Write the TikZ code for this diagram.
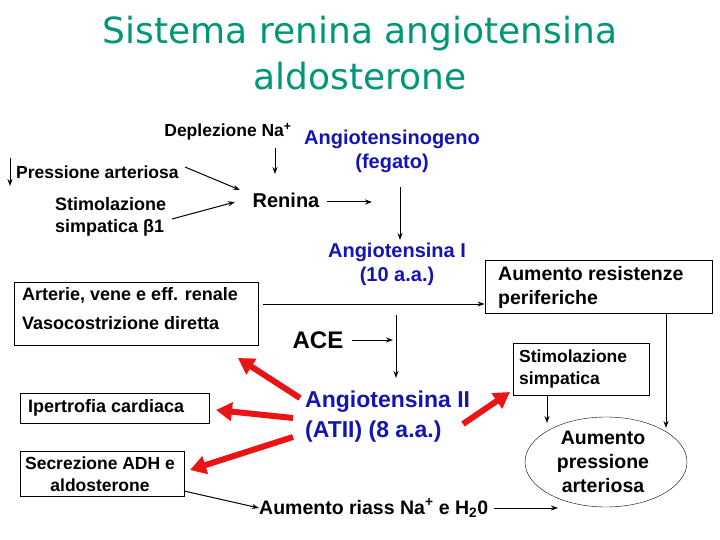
\documentclass[tikz,border=0pt]{standalone}
\usepackage{fontspec}
\setmainfont{Liberation Sans}
\newfontfamily\titlefont{DejaVu Sans}
\usetikzlibrary{arrows.meta,shapes.geometric}
\definecolor{ttl}{RGB}{0,150,120}
\definecolor{bl}{RGB}{20,20,180}
\begin{document}
\begin{tikzpicture}[x=1pt,y=-1pt,
  lbl/.style={font=\bfseries\fontsize{18}{20}\selectfont,inner sep=0pt,align=center},
  blu/.style={font=\bfseries\fontsize{20}{24}\selectfont,text=bl,inner sep=0pt,align=center},
  box/.style={draw,line width=0.8pt,inner sep=0pt},
  ar/.style={-{Stealth[length=7pt,width=5pt]},line width=1pt},
  red/.style={-{Triangle[length=16pt,width=18pt]},line width=6pt,draw={rgb,255:red,235;green,20;blue,20}}]
\useasboundingbox (0,0) rectangle (720,540);
\node[font=\titlefont\fontsize{36}{46}\selectfont,text=ttl,align=center] (t) at (360,53) {Sistema renina angiotensina\\aldosterone};
\node[lbl,font=\bfseries\fontsize{17.5}{20}\selectfont] (dep) at (228,132) {Deplezione Na\textsuperscript{+}};
\coordinate (d1) at (275,148); \coordinate (d2) at (275,174);
\draw[ar] (d1) -- (d2);
\node[blu] (agg) at (392,151) {Angiotensinogeno\\(fegato)};
\node[lbl,anchor=west,font=\bfseries\fontsize{17.5}{20}\selectfont] (pa) at (16,172) {Pressione arteriosa};
\coordinate (p1) at (10,158); \coordinate (p2) at (10,186);
\draw[ar] (p1) -- (p2);
\node[lbl,anchor=west,align=left,font=\bfseries\fontsize{18}{22}\selectfont] (ss) at (55,217) {Stimolazione\\simpatica β1};
\node[lbl,font=\bfseries\fontsize{20}{22}\selectfont] (ren) at (286,200) {Renina};
\draw[ar] (185,167) coordinate (pae) -- (240,190) coordinate (rin);
\draw[ar] (172,219) coordinate (ssa) -- (235,202) coordinate (rin2);
\draw[ar] (327,202) coordinate (re) -- (372,202) coordinate (re2);
\draw[ar] (400,187) coordinate (ag1) -- (400,240) coordinate (ag2);
\node[blu] (a1) at (397,264) {Angiotensina I\\(10 a.a.)};
\node[box,minimum width=244pt,minimum height=63pt] (art) at (136,313.5) {};
\node[lbl,anchor=west] (arttx) at (22,295) {Arterie, vene e eff. renale};
\node[lbl,anchor=west] (vas) at (22,323) {Vasocostrizione diretta};
\node[box,minimum width=227pt,minimum height=53pt] (aum) at (598.5,286.5) {};
\node[lbl,anchor=west,align=left,font=\bfseries\fontsize{19.5}{24}\selectfont] (aumtx) at (498,287) {Aumento resistenze\\periferiche};
\coordinate (l1) at (263,304);
\draw[ar] (l1) -- (aum.west |- l1);
\coordinate (b1) at (396,315); \coordinate (b2) at (396,378);
\draw[ar] (b1) -- (b2);
\node[lbl,font=\bfseries\fontsize{24}{26}\selectfont] (ace) at (318,340) {ACE};
\draw[ar] (352,340) coordinate (c1) -- (393,340) coordinate (c2);
\node[blu,anchor=west,align=left,font=\bfseries\fontsize{23}{30}\selectfont] (a2) at (305,417) {Angiotensina II\\(ATII) (8 a.a.)};
\node[box,minimum width=136pt,minimum height=52pt] (sts) at (581,369) {};
\node[lbl,anchor=west,align=left,font=\bfseries\fontsize{17.5}{22}\selectfont] (ststx) at (519,369) {Stimolazione\\simpatica};
\node[draw,ellipse,minimum width=162pt,minimum height=90pt,inner sep=0pt] (ell) at (606,462) {};
\node[lbl,font=\bfseries\fontsize{19.5}{24}\selectfont] (elltx) at (603,462) {Aumento\\pressione\\arteriosa};
\draw[ar] (547,395) coordinate (s1) -- (547,423) coordinate (s2);
\draw[ar] (666,313) coordinate (m1) -- (666,428) coordinate (m2);
\node[box,minimum width=189pt,minimum height=30pt] (ip) at (114.5,408) {};
\node[lbl,anchor=west] (iptx) at (28,408) {Ipertrofia cardiaca};
\node[box,minimum width=164pt,minimum height=45pt] (sec) at (102,473.5) {};
\node[lbl,font=\bfseries\fontsize{17.5}{22}\selectfont] (sectx) at (100,474) {Secrezione ADH e\\aldosterone};
\node[lbl,anchor=west,font=\bfseries\fontsize{19.5}{22}\selectfont] (ria) at (259,508) {Aumento riass Na\textsuperscript{+} e H\textsubscript{2}0};
\draw[ar] (184,491) coordinate (se) -- (ria.west);
\draw[ar] ([xshift=6pt]ria.east) -- (558,508) coordinate (ri2);
\draw[red] (300,398) coordinate (r1) -- (238,358) coordinate (r2);
\draw[red] (293,418) coordinate (r3) -- (216,410) coordinate (r4);
\draw[red] (293,437) coordinate (r5) -- (190,470) coordinate (r6);
\draw[red] (463,424) coordinate (r7) -- (510,392) coordinate (r8);
\end{tikzpicture}
\end{document}
